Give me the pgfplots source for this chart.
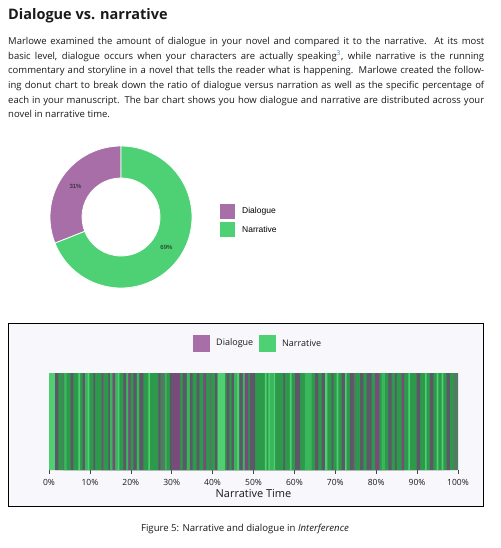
\documentclass[border=0pt]{standalone}
\usepackage{fontspec}
\setmainfont{Open Sans}
\newfontfamily\arialfont{Liberation Sans}
\usepackage{pgfplots}
\usepackage{pgfplotstable}
\pgfplotsset{compat=1.18}

% palette
\definecolor{ink}{HTML}{1A1A1A}
\definecolor{tickgray}{HTML}{444444}
\definecolor{footblue}{HTML}{4F7FC6}
\definecolor{dlg}{HTML}{A86EA8}
\definecolor{nar}{HTML}{4ED174}
\definecolor{panel}{HTML}{F8F7FC}
\definecolor{stripL}{HTML}{4FCF72}
\definecolor{stripD}{HTML}{2C9A4A}
\definecolor{stripN}{HTML}{3AB65C}
\definecolor{stripP}{HTML}{5E5769}
\definecolor{stripM}{HTML}{7A4A7C}
\definecolor{stripG}{HTML}{527C62}

% donut shares (percent)
\pgfplotstableread{
part share
Dialogue 31
Narrative 69
}\donutdata

% narrative-time strip: each class lists segment starts (y=1) and ends (y=0), in percent
\pgfplotstableread{
x y
0 1
100 0
}\tabD
\pgfplotstableread{
x y
0 1
1.47 0
7.17 1
7.58 0
9.37 1
9.86 0
16.71 1
17.20 0
24.29 1
24.69 0
41.16 1
43.03 0
45.88 1
46.54 0
52.81 1
53.22 0
53.63 1
54.03 0
54.85 1
55.26 0
58.92 1
59.33 0
67.48 1
68.05 0
70.33 1
70.74 0
72.37 1
72.78 0
87.85 1
88.26 0
91.93 1
92.34 0
94.78 1
95.19 0
96.00 1
96.41 0
}\tabL
\pgfplotstableread{
x y
3.67 1
4.32 0
8.80 1
9.37 0
14.91 1
15.56 0
16.14 1
16.71 0
18.83 1
19.40 0
21.44 1
22.09 0
28.36 1
28.77 0
33.66 1
34.47 0
45.23 1
45.88 0
47.35 1
47.92 0
54.03 1
54.85 0
62.59 1
64.22 0
81.34 1
82.15 0
}\tabN
\pgfplotstableread{
x y
1.47 1
2.28 0
5.30 1
5.95 0
8.23 1
8.80 0
10.84 1
11.25 0
14.51 1
14.91 0
18.17 1
18.83 0
20.62 1
21.44 0
22.09 1
23.07 0
26.73 1
27.30 0
29.58 1
30.24 0
32.68 1
33.66 0
34.47 1
35.13 0
36.10 1
36.76 0
40.59 1
41.16 0
43.44 1
44.09 0
44.66 1
45.23 0
46.54 1
47.35 0
49.14 1
50.37 0
57.29 1
57.70 0
60.15 1
61.37 0
65.04 1
65.85 0
66.67 1
67.48 0
69.11 1
69.52 0
71.56 1
72.37 0
73.59 1
74.57 0
76.04 1
76.85 0
77.67 1
78.89 0
82.97 1
83.78 0
84.60 1
85.00 0
89.89 1
90.71 0
93.15 1
93.97 0
97.23 1
98.04 0
}\tabP
\pgfplotstableread{
x y
12.88 1
13.28 0
15.56 1
16.14 0
19.40 1
19.97 0
30.24 1
32.03 0
37.73 1
38.39 0
47.92 1
48.74 0
79.71 1
80.77 0
86.23 1
86.80 0
}\tabM
\pgfplotstableread{
x y
3.34 1
3.67 0
27.30 1
28.36 0
39.20 1
39.77 0
74.57 1
75.06 0
98.86 1
100 0
}\tabG

\begin{document}
\begin{tikzpicture}
\pgfplotstablegetelem{0}{share}\of\donutdata
\let\dshare\pgfplotsretval
\pgfplotstablegetelem{1}{share}\of\donutdata
\let\nshare\pgfplotsretval
\pgfmathsetmacro\dend{90+3.6*\dshare}
\pgfmathsetmacro\dmid{90+1.8*\dshare}
\pgfmathsetmacro\nmid{\dend+1.8*\nshare}

\begin{scope}[x=1pt,y=-1pt]
  \fill[white] (0,0) rectangle (500,548);
  % heading and body text
  \node[anchor=base west, inner sep=0, text=ink,
        font=\fontsize{14.5}{17}\selectfont\bfseries] at (8,19.5) {Dialogue vs. narrative};
  \begin{scope}[every node/.style={anchor=base west, inner sep=0, text=ink,
                font=\fontsize{9.5}{11}\selectfont}]
    \node at (8,44.7) {\makebox[476pt][s]{Marlowe examined the amount of dialogue in your novel and compared it to the narrative.\ \ At its most}};
    \node at (8,59.3) {\makebox[476pt][s]{basic level, dialogue occurs when your characters are actually speaking\textsuperscript{\color{footblue}3}, while narrative is the running}};
    \node at (8,74.0) {\makebox[476pt][s]{commentary and storyline in a novel that tells the reader what is happening. Marlowe created the follow-}};
    \node at (8,88.6) {\makebox[476pt][s]{ing donut chart to break down the ratio of dialogue versus narration as well as the specific percentage of}};
    \node at (8,103.3) {\makebox[476pt][s]{each in your manuscript. The bar chart shows you how dialogue and narrative are distributed across your}};
    \node at (8,118.0) {novel in narrative time.};
  \end{scope}
  % donut legend
  \fill[dlg] (220,204) rectangle (235,219);
  \fill[nar] (220,222) rectangle (235,237);
  \node[anchor=west, inner sep=0, font=\arialfont\fontsize{8.5}{10}\selectfont] at (242,211.5) {Dialogue};
  \node[anchor=west, inner sep=0, font=\arialfont\fontsize{8.5}{10}\selectfont] at (242,229.5) {Narrative};
  % strip panel
  \draw[line width=1pt, fill=panel] (8,323.5) rectangle (483.5,506);
  \fill[dlg] (193,335) rectangle (210,352);
  \fill[nar] (259,335) rectangle (276,352);
  \node[anchor=west, inner sep=0, text=ink, font=\fontsize{9}{11}\selectfont] at (216,343.5) {Dialogue};
  \node[anchor=west, inner sep=0, text=ink, font=\fontsize{9}{11}\selectfont] at (282,343.5) {Narrative};
  % caption
  \node[anchor=base, inner sep=0, text=ink, font=\fontsize{9.6}{11}\selectfont] at (245,531)
    {Figure 5: Narrative and dialogue in \textit{Interference}};
\end{scope}

% donut
\begin{axis}[
  at={(121pt,-217pt)}, anchor=center,
  scale only axis, width=150pt, height=150pt,
  xmin=-75, xmax=75, ymin=-75, ymax=75,
  hide axis, clip=false,
]
  \fill[dlg, draw=white, line width=0.8pt]
    (axis cs:0,71) arc[start angle=90, end angle=\dend, radius=71pt]
    -- (axis cs:{39*cos(\dend)},{39*sin(\dend)})
    arc[start angle=\dend, end angle=90, radius=39pt] -- cycle;
  \fill[nar, draw=white, line width=0.8pt]
    (axis cs:{71*cos(\dend)},{71*sin(\dend)}) arc[start angle=\dend, end angle=450, radius=71pt]
    -- (axis cs:0,39)
    arc[start angle=450, end angle=\dend, radius=39pt] -- cycle;
  \node[font=\arialfont\fontsize{6}{7}\selectfont, text=ink]
    at (axis cs:{55*cos(\dmid)},{55*sin(\dmid)}) {\dshare\%};
  \node[font=\arialfont\fontsize{6}{7}\selectfont, text=ink]
    at (axis cs:{55*cos(\nmid)},{55*sin(\nmid)}) {\nshare\%};
\end{axis}

% narrative-time strip
\begin{axis}[
  at={(49pt,-470pt)}, anchor=south west,
  scale only axis, width=409pt, height=97pt,
  xmin=0, xmax=100, ymin=0, ymax=1,
  axis line style={draw=none},
  ytick=\empty,
  xtick={0,10,...,100},
  xticklabels={0\%,10\%,20\%,30\%,40\%,50\%,60\%,70\%,80\%,90\%,100\%},
  xtick align=outside, xtick pos=bottom,
  major tick length=3.5pt,
  tick style={tickgray, line width=0.6pt},
  xticklabel style={font=\fontsize{8.5}{10}\selectfont, text=ink, yshift=-2pt},
  /pgf/number format/assume math mode=true,
  xlabel={Narrative Time},
  xlabel style={at={(axis description cs:0.5,0)}, anchor=base, yshift=-27pt,
                font=\fontsize{11}{13}\selectfont, text=ink},
]
  \addplot[ybar interval, fill=stripD, draw=none, forget plot] table {\tabD};
  \addplot[ybar interval, fill=stripL, draw=none, forget plot] table {\tabL};
  \addplot[ybar interval, fill=stripN, draw=none, forget plot] table {\tabN};
  \addplot[ybar interval, fill=stripP, draw=none, forget plot] table {\tabP};
  \addplot[ybar interval, fill=stripM, draw=none, forget plot] table {\tabM};
  \addplot[ybar interval, fill=stripG, draw=none, forget plot] table {\tabG};
\end{axis}
\end{tikzpicture}
\end{document}
